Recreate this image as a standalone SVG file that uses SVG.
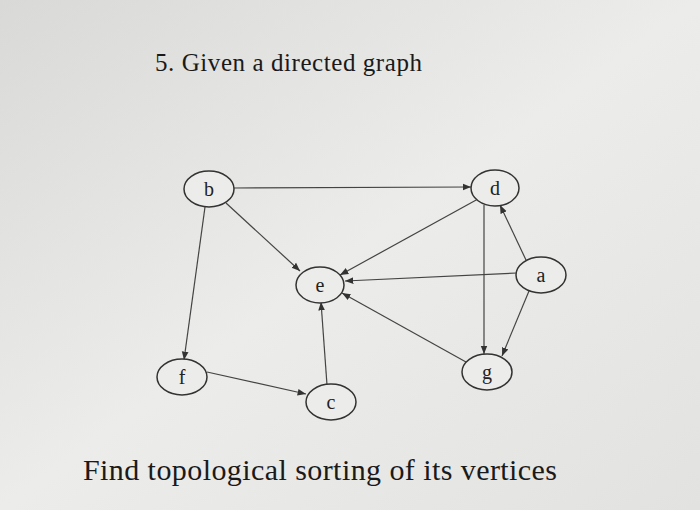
<svg xmlns="http://www.w3.org/2000/svg" width="700" height="510" viewBox="0 0 700 510">
<defs>
<linearGradient id="bg" x1="0" y1="0" x2="1" y2="1">
<stop offset="0" stop-color="#d9d9d7"/><stop offset="0.5" stop-color="#ececea"/><stop offset="1" stop-color="#e2e2e0"/>
</linearGradient>
<marker id="ar" viewBox="0 0 10 10" refX="10" refY="5" markerWidth="7" markerHeight="7" orient="auto"><path d="M0,1 L10,5 L0,9 z" fill="#333"/></marker>
</defs>
<style>
.n ellipse{fill:#ececea;stroke:#333;stroke-width:1.5}
.n text{font-family:"Liberation Serif",serif;font-size:20px;fill:#222;text-anchor:middle}
#edges line{stroke:#444;stroke-width:1.2;marker-end:url(#ar)}
.t{font-family:"Liberation Serif",serif;fill:#1a1a1a}
</style>
<rect width="700" height="510" fill="url(#bg)"/>
<text class="t" x="155" y="71" font-size="25" textLength="267">5. Given a directed graph</text>
<text class="t" x="83" y="480" font-size="30" textLength="474">Find topological sorting of its vertices</text>
<g id="edges">
<line x1="234" y1="188" x2="471" y2="187"/>
<line x1="226" y1="203" x2="300" y2="271"/>
<line x1="205" y1="207" x2="184" y2="360"/>
<line x1="478" y1="199" x2="340" y2="275"/>
<line x1="526" y1="260" x2="500" y2="205"/>
<line x1="517" y1="273" x2="345" y2="281"/>
<line x1="529" y1="291" x2="502" y2="356"/>
<line x1="484" y1="205" x2="484" y2="354"/>
<line x1="466" y1="362" x2="342" y2="293"/>
<line x1="327" y1="385" x2="321" y2="302"/>
<line x1="207" y1="372" x2="306" y2="394"/>
</g>
<g id="b" class="n"><ellipse cx="209" cy="189" rx="25" ry="18"/><text x="209" y="196">b</text></g>
<g id="d" class="n"><ellipse cx="495" cy="188" rx="24" ry="18"/><text x="495" y="195">d</text></g>
<g id="e" class="n"><ellipse cx="320" cy="285" rx="24" ry="18"/><text x="320" y="292">e</text></g>
<g id="a" class="n"><ellipse cx="541" cy="275" rx="25" ry="18"/><text x="541" y="282">a</text></g>
<g id="f" class="n"><ellipse cx="182" cy="377" rx="25" ry="18"/><text x="182" y="384">f</text></g>
<g id="c" class="n"><ellipse cx="331" cy="402" rx="25" ry="18"/><text x="331" y="409">c</text></g>
<g id="g" class="n"><ellipse cx="487" cy="372" rx="25" ry="18"/><text x="487" y="379">g</text></g>
</svg>
